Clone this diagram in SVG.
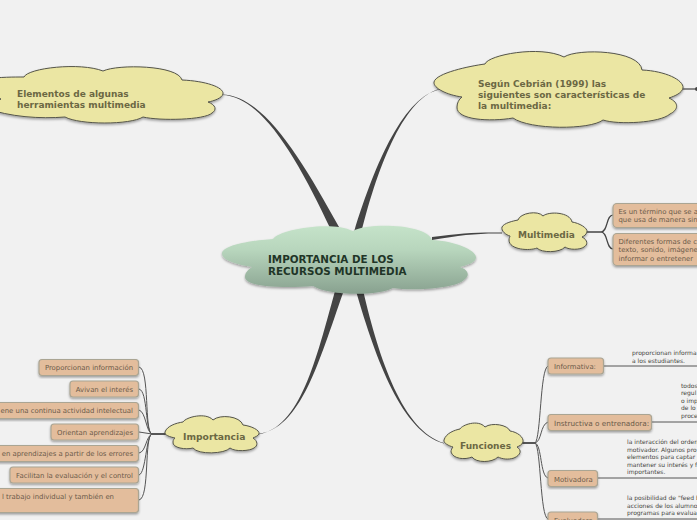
<svg xmlns="http://www.w3.org/2000/svg" width="697" height="520" viewBox="0 0 697 520">
<defs>
<linearGradient id="cg" x1="0" y1="0" x2="0" y2="1"><stop offset="0" stop-color="#c5e3c9"/><stop offset="0.35" stop-color="#b8d6bd"/><stop offset="1" stop-color="#88a18f"/></linearGradient>
<filter id="sh" x="-10%" y="-10%" width="120%" height="130%"><feDropShadow dx="0" dy="1.5" stdDeviation="1.2" flood-color="#000" flood-opacity="0.35"/></filter>
</defs>
<style>
text{font-family:"DejaVu Sans",Verdana,sans-serif}
.cloud{fill:#ebe6a3;stroke:#55554a;stroke-width:1;filter:url(#sh)}
.box{fill:#e3bd9c;stroke:#aaa593;stroke-width:1.2;filter:url(#sh)}
.h{font-weight:bold;fill:#6b6843;font-size:9px}
.t{fill:#6b5b4a;font-size:6.9px}
.n{fill:#45453f;font-size:6px}
.c{fill:none;stroke:#555;stroke-width:1}
.k{fill:none;stroke:#444;stroke-width:1.2}
.w{fill:#444;stroke:none}
</style>
<rect width="697" height="520" fill="#f1f1f1"/>
<g id="connectors">
<path class="w" d="M222,95 C262,96 298,160 331,230 L339,227 C301,158 263,95 222,94.500Z"/>
<path class="w" d="M440,89.500 C405,96 376,160 354,232 L361,234 C379,161 406,96.500 440,89Z"/>
<path class="w" d="M432,240 C460,235 480,233 502,233.500 L502,232.500 C480,232 460,233 432,237Z"/>
<path class="w" d="M258,434.500 C300,428 316,360 335,291 L343,293 C319,361 301,429 258,434Z"/>
<path class="w" d="M444,443.500 C402,432 376,360 356,291 L363,290 C379,359 403,431 444,443Z"/>
<path class="k" d="M587,232H601C608,232 606,215 613,215"/><path class="k" d="M587,232H601C608,232 606,249 613,249"/>
<path class="k" d="M683,89H697"/><circle cx="697" cy="89" r="2" fill="#444"/>
<path d="M166,434H152" stroke="#444" stroke-width="1.8" fill="none"/>
<path class="c" d="M152,434C144,432 150,369 139,367"/><path class="c" d="M152,434C145,432 148,391 139,389"/><path class="c" d="M152,434C146,432 146,412 139,410"/><path class="c" d="M152,434L139,432"/><path class="c" d="M152,434C146,436 146,452 139,453"/><path class="c" d="M152,434C146,436 146,473 139,475"/><path class="c" d="M152,434C144,436 150,498 139,500"/>
<path d="M522,443H535" stroke="#444" stroke-width="1.8" fill="none"/>
<path class="c" d="M535,443C541,438 540,369 548,366"/><path class="c" d="M535,443C542,441 540,425 548,422"/><path class="c" d="M535,443C542,445 540,476 548,478"/><path class="c" d="M535,443C541,447 540,517 548,519"/>
<path class="c" d="M604,366H697"/><path class="c" d="M652,422H697"/><path class="c" d="M598,478H697"/><path class="c" d="M598,519H697"/>
</g>
<g id="central">
<path d="M222,253 C224,244 258,240 273,239 C278,230 330,220 353,231 C368,222 428,224 432,240 C455,241 477,250 476,258 C475,263 467,265 460,267 C469,270 470,276 464,280 C455,289 410,291 393,288 C380,296 328,296 313,286 C290,288 245,288 245,277 C245,272 249,269 252,267 C237,265 221,260 222,253Z" fill="url(#cg)" filter="url(#sh)"/>
<text x="268" y="263" font-size="10.350" font-weight="bold" fill="#1f3527">IMPORTANCIA DE LOS</text>
<text x="268" y="275" font-size="10.350" font-weight="bold" fill="#1f3527">RECURSOS MULTIMEDIA</text>
</g>
<g id="elementos">
<path class="cloud" d="M-15,79 C0,77 14,77 24,77 C28,68 80,62 103,71 C118,64 178,65 182,80 C205,81 224,87 223,94 C222,98 214,101 208,102 C216,105 217,110 212,113 C205,120 160,121 143,117 C130,125 80,125 65,117 C40,119 10,117 -15,108 L1,99 L-15,92Z"/>
<text class="h" x="17" y="97">Elementos de algunas</text>
<text class="h" x="17" y="108">herramientas multimedia</text>
</g>
<g id="segun">
<path class="cloud" d="M434,82 C436,73 470,66 485,64 C488,55 540,45 564,57 C578,48 640,50 642,70 C665,71 684,80 683,88 C682,93 675,96 669,98 C680,103 678,110 670,114 C660,123 618,125 603,120 C590,130 530,130 513,118 C490,122 456,120 457,107 C457,103 459,99 462,97 C447,95 433,88 434,82Z"/>
<text class="h" x="478" y="87">Según Cebrián (1999) las</text>
<text class="h" x="478" y="98">siguientes son características de</text>
<text class="h" x="478" y="109">la multimedia:</text>
</g>
<g id="multimedia">
<path class="cloud" d="M502,227 C504,223 513,221 518,220 C520,213 538,210 543,216 C549,211 570,212 572,222 C579,223 588,228 587,232 C586,235 584,236 582,237 C588,240 588,245 584,247 C580,250 569,250 565,247 C560,253 541,253 537,248 C530,251 509,250 509,240 C509,238 510,237 510,236 C506,235 501,231 502,227Z"/>
<text class="h" x="518" y="238">Multimedia</text>
</g>
<g id="m1"><rect class="box" x="613" y="203.500" width="100" height="24" rx="4"/><text class="t" x="618.500" y="214">Es un término que se a</text><text class="t" x="618.500" y="222">que usa de manera sin</text></g>
<g id="m2"><rect class="box" x="613" y="233.500" width="100" height="32" rx="4"/><text class="t" x="618.500" y="244">Diferentes formas de c</text><text class="t" x="618.500" y="252">texto, sonido, imágene</text><text class="t" x="618.500" y="261">informar o entretener</text></g>
<g id="importancia">
<path class="cloud" d="M165,432 C167,426 176,423 183,422 C186,417 206,412 213,420 C220,414 240,416 243,425 C251,426 260,430 259,434 C258,436 255,437 253,438 C258,441 258,446 254,448 C250,451 235,452 230,448 C225,454 198,455 193,448 C186,450 172,448 173,442 C173,440 174,439 175,438 C170,437 164,435 165,432Z"/>
<text class="h" x="183" y="440" style="font-size:9.200px">Importancia</text>
</g>
<g id="i1"><rect class="box" x="39" y="359.500" width="99.500" height="16" rx="3"/><text class="t" x="133" y="370" text-anchor="end">Proporcionan información</text></g>
<g id="i2"><rect class="box" x="70" y="381" width="68.500" height="16" rx="3"/><text class="t" x="133" y="392" text-anchor="end">Avivan el interés</text></g>
<g id="i3"><rect class="box" x="-20" y="402.500" width="158.500" height="16" rx="3"/><text class="t" x="133" y="413" text-anchor="end">ene una continua actividad intelectual</text></g>
<g id="i4"><rect class="box" x="51" y="424" width="87.500" height="16" rx="3"/><text class="t" x="133" y="435" text-anchor="end">Orientan aprendizajes</text></g>
<g id="i5"><rect class="box" x="-20" y="445.500" width="158.500" height="16" rx="3"/><text class="t" x="133" y="456" text-anchor="end">en aprendizajes a partir de los errores</text></g>
<g id="i6"><rect class="box" x="10" y="467" width="128.500" height="16" rx="3"/><text class="t" x="133" y="478" text-anchor="end">Facilitan la evaluación y el control</text></g>
<g id="i7"><rect class="box" x="-20" y="488.500" width="158.500" height="24" rx="3"/><text class="t" x="114" y="499" text-anchor="end">l trabajo individual y también en</text></g>
<g id="funciones">
<path class="cloud" d="M444,440 C446,433 455,430 460,429 C462,425 478,419 485,427 C492,422 508,425 510,431 C517,432 524,437 523,442 C522,445 519,446 517,447 C522,450 521,455 514,458 C508,460 502,459 498,457 C492,463 476,463 472,457 C465,460 453,459 451,452 C451,450 452,448 453,447 C449,446 443,443 444,440Z"/>
<text class="h" x="460" y="449">Funciones</text>
</g>
<g id="f1"><rect class="box" x="548" y="358" width="55.500" height="16" rx="3"/><text class="t" x="554" y="369">Informativa:</text></g>
<g id="f1t"><text class="n" x="632" y="354.500">proporcionan informa</text><text class="n" x="632" y="362.500">a los estudiantes.</text></g>
<g id="f2"><rect class="box" x="548" y="414.500" width="103.500" height="16" rx="3"/><text class="t" x="554" y="425.500" style="font-size:7.300px">Instructiva o entrenadora:</text></g>
<g id="f2t"><text class="n" x="681" y="388">todos</text><text class="n" x="681" y="395">regul</text><text class="n" x="681" y="403">o imp</text><text class="n" x="681" y="410">de lo</text><text class="n" x="681" y="418">proce</text></g>
<g id="f3"><rect class="box" x="548" y="470.500" width="49.500" height="16" rx="3"/><text class="t" x="554" y="481.500">Motivadora</text></g>
<g id="f3t"><text class="n" x="627" y="444">la interacción del orden</text><text class="n" x="627" y="452">motivador. Algunos pro</text><text class="n" x="627" y="459">elementos para captar</text><text class="n" x="627" y="467">mantener su interés y f</text><text class="n" x="627" y="474">importantes.</text></g>
<g id="f4"><rect class="box" x="548" y="512" width="49.500" height="16" rx="3"/><text class="t" x="554" y="523">Evaluadora</text></g>
<g id="f4t"><text class="n" x="627" y="500">la posibilidad de "feed b</text><text class="n" x="627" y="508">acciones de los alumno</text><text class="n" x="627" y="515">programas para evalua</text></g>
</svg>
